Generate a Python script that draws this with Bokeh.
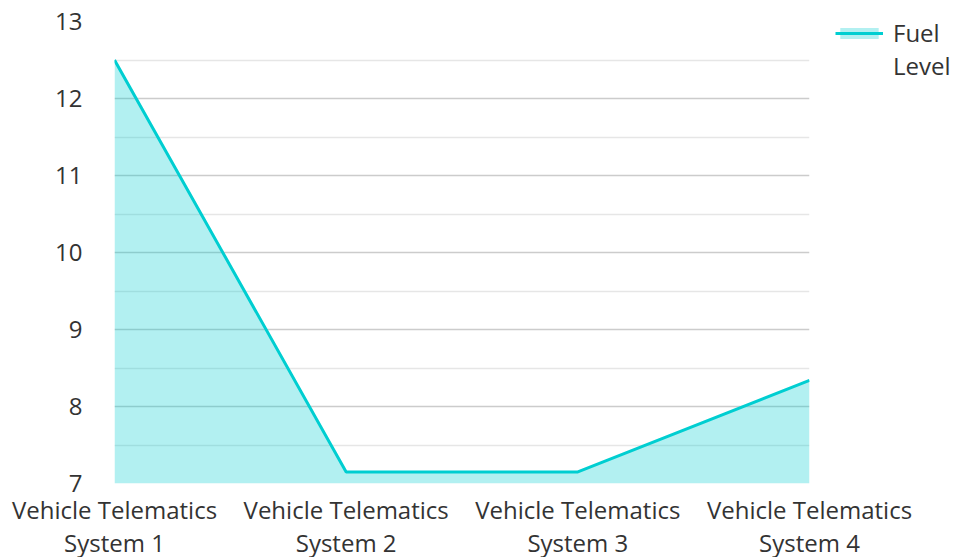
from bokeh.plotting import figure
from bokeh.models import Legend, LegendItem, FixedTicker, Range1d, ColumnDataSource
from bokeh.embed import file_html
from bokeh.resources import INLINE

categories = ["Vehicle Telematics\nSystem 1", "Vehicle Telematics\nSystem 2",
              "Vehicle Telematics\nSystem 3", "Vehicle Telematics\nSystem 4"]
fuel_level = [12.5, 7.15, 7.15, 8.34]
series_label_lines = ["Fuel", "Level"]
y_min, y_max = 7, 13

xs = list(range(len(categories)))
src = ColumnDataSource(dict(x=xs, y=fuel_level, base=[y_min] * len(xs)))

FONT = "Open Sans"
TXT = "#333333"
TEAL = "#00CED1"
FS = "24px"

p = figure(frame_width=695, frame_height=462, output_backend="svg", toolbar_location=None,
           x_range=Range1d(0, len(categories) - 1), y_range=Range1d(y_min, y_max),
           min_border_left=114, min_border_top=21, min_border_bottom=0, min_border_right=144)
p.outline_line_color = None

area = p.varea(x="x", y1="base", y2="y", source=src, fill_color=TEAL, fill_alpha=0.3)
line = p.line(x="x", y="y", source=src, line_color=TEAL, line_width=3)
# invisible renderer used only to hold the second line of the legend label
blank = p.line(x=[], y=[], line_alpha=0)

# axes
p.xaxis.ticker = FixedTicker(ticks=xs)
p.xaxis.major_label_overrides = {i: c for i, c in enumerate(categories)}
p.yaxis.ticker = FixedTicker(ticks=list(range(y_min, y_max + 1)),
                             minor_ticks=[v + 0.5 for v in range(y_min, y_max)])
for ax in (p.xaxis, p.yaxis):
    ax.axis_line_color = None
    ax.major_tick_line_color = None
    ax.minor_tick_line_color = None
    ax.major_label_text_font = FONT
    ax.major_label_text_font_size = FS
    ax.major_label_text_color = TXT
p.yaxis.major_label_standoff = 26
p.xaxis.major_label_standoff = 3
p.xaxis.major_label_text_line_height = 1.0

p.xgrid.grid_line_color = None
p.ygrid.grid_line_color = "#cccccc"
p.ygrid.grid_line_width = 1.5
p.ygrid.minor_grid_line_color = "#e6e6e6"
p.ygrid.minor_grid_line_width = 1.5

legend = Legend(items=[LegendItem(label=series_label_lines[0], renderers=[area, line]),
                       LegendItem(label=series_label_lines[1], renderers=[blank])],
                location=(26, 401), border_line_color=None, background_fill_alpha=0,
                label_text_font=FONT, label_text_font_size=FS, label_text_color=TXT,
                glyph_width=48, glyph_height=14, padding=0, margin=0, spacing=0,
                label_standoff=10)
p.add_layout(legend, "right")

open("out.html", "w").write(file_html(p, INLINE))
